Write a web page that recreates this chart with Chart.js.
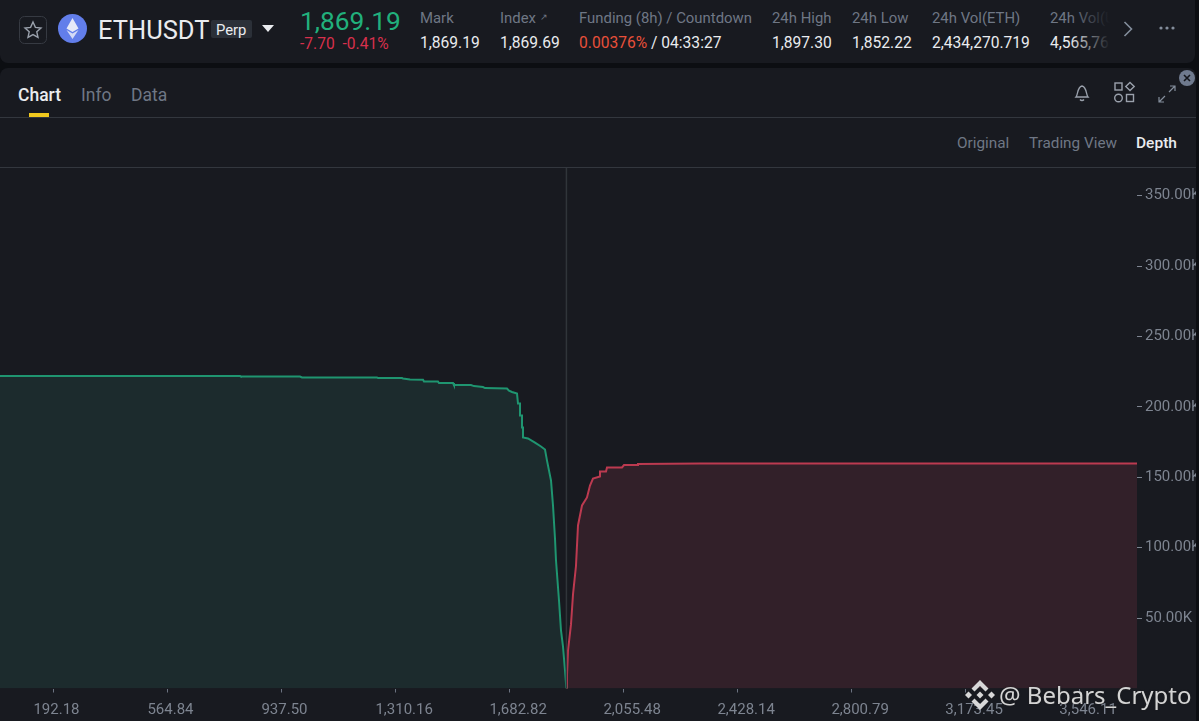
<!DOCTYPE html>
<html>
<head>
<meta charset="utf-8">
<title>ETHUSDT Depth</title>
<script src="https://cdn.jsdelivr.net/npm/chart.js@4/dist/chart.umd.min.js"></script>
<style>
  html, body { margin: 0; padding: 0; background: #0c0e12; overflow: hidden; }
  body { width: 1199px; height: 721px; position: relative; font-family: Roboto, sans-serif; }
  .panel { position: absolute; background: #181a20; }
  .t { position: absolute; white-space: nowrap; line-height: 1; font-size: 14.9px; transform: translateY(-50%); }
  .v { font-size: 15.6px; }
  .gray { color: #6f7785; }
  .white { color: #eaecef; }
  .line { position: absolute; left: 0; width: 1196px; height: 1px; background: #33373e; }
  svg { position: absolute; overflow: visible; }
  /* chart.js keeps 12px above the plot here, so the canvas starts 12px over the 168px line */
  #chart { position: absolute; left: 0; top: 156px; }
</style>
</head>
<body>
<div class="panel" style="left:0;top:0;width:1195px;height:63px;border-radius:0 0 8px 8px"></div>
<div class="panel" style="left:0;top:68px;width:1196px;height:653px;border-radius:8px 8px 0 0"></div>

<!-- top bar -->
<svg style="left:19px;top:16px" width="28" height="28">
  <rect x="0.5" y="0.5" width="27" height="27" rx="5" fill="none" stroke="#363a42"/>
  <polygon points="14,6 16.4,11.4 22,12 17.8,15.8 19,21.4 14,18.6 9,21.4 10.2,15.8 6,12 11.6,11.4" fill="none" stroke="#9aa1ac" stroke-width="1.4"/>
</svg>
<svg style="left:58px;top:14px" width="29" height="29">
  <circle cx="14.5" cy="14.5" r="14.5" fill="#627eea"/>
  <polygon points="14.5,4 8.5,14.5 14.5,18 20.5,14.5" fill="#e6e9f8"/>
  <polygon points="8.5,16 14.5,25 20.5,16 14.5,19.6" fill="#d3daf6"/>
</svg>
<div class="t white" style="left:98px;top:31px;font-size:25.5px">ETHUSDT</div>
<div style="position:absolute;left:211px;top:20px;width:41px;height:18px;background:#2b3038;border-radius:2px"></div>
<div class="t white" style="left:216px;top:29.5px;font-size:14.8px">Perp</div>
<svg style="left:262px;top:25px" width="12" height="8"><polygon points="0,0 12,0 6,7" fill="#eaecef"/></svg>

<div class="t" style="left:300px;top:21px;font-size:26.3px;color:#21b07c">1,869.19</div>
<div class="t v" style="left:300px;top:44.5px;color:#d8304c">-7.70&nbsp;&nbsp;-0.41%</div>

<div class="t gray" style="left:420px;top:18px">Mark</div>
<div class="t white v" style="left:420px;top:43.5px">1,869.19</div>
<div class="t gray" style="left:500px;top:18px">Index <span style="font-size:9px;vertical-align:3px">↗</span></div>
<div class="t white v" style="left:500px;top:43.5px">1,869.69</div>
<div class="t gray" style="left:579px;top:18px">Funding (8h) / Countdown</div>
<div class="t white v" style="left:579px;top:43.5px"><span style="color:#e8503a">0.00376%</span> / 04:33:27</div>
<div class="t gray" style="left:772px;top:18px">24h High</div>
<div class="t white v" style="left:772px;top:43.5px">1,897.30</div>
<div class="t gray" style="left:852px;top:18px">24h Low</div>
<div class="t white v" style="left:852px;top:43.5px">1,852.22</div>
<div class="t gray" style="left:932px;top:18px">24h Vol(ETH)</div>
<div class="t white v" style="left:932px;top:43.5px">2,434,270.719</div>
<div class="t gray" style="left:1050px;top:18px">24h Vol(USDT)</div>
<div class="t white v" style="left:1050px;top:43.5px">4,565,761,234</div>
<div style="position:absolute;left:1070px;top:5px;width:40px;height:50px;background:linear-gradient(to right,rgba(24,26,32,0),#181a20)"></div>
<div style="position:absolute;left:1110px;top:5px;width:80px;height:50px;background:#181a20"></div>
<svg style="left:1123px;top:21px" width="10" height="16"><polyline points="1.5,1 8.5,8 1.5,15" fill="none" stroke="#848e9c" stroke-width="1.6"/></svg>
<svg style="left:1159px;top:26px" width="16" height="4" fill="#848e9c"><circle cx="2" cy="2" r="1.6"/><circle cx="8" cy="2" r="1.6"/><circle cx="14" cy="2" r="1.6"/></svg>

<!-- tabs -->
<div class="t white" style="left:18px;top:96px;font-size:17.5px;font-weight:500">Chart</div>
<div class="t gray" style="left:81px;top:96px;font-size:17.5px">Info</div>
<div class="t gray" style="left:131px;top:96px;font-size:17.5px">Data</div>
<div style="position:absolute;left:29px;top:113px;width:20px;height:4px;background:#f0c81e"></div>
<div class="line" style="top:117px"></div>
<div class="line" style="top:167px"></div>

<svg style="left:1074px;top:84px" width="16" height="18" fill="none" stroke="#9aa1ac" stroke-width="1.3">
  <path d="M2,13 C4,11 3,3 8,2 C13,3 12,11 14,13 Z"/><path d="M6,15.5 C7,16.8 9,16.8 10,15.5"/>
</svg>
<svg style="left:1114px;top:82px" width="21" height="21" fill="none" stroke="#9aa1ac" stroke-width="1.4">
  <rect x="1" y="1" width="7" height="7"/><polygon points="16,0.5 20.2,4.5 16,8.5 11.8,4.5"/>
  <circle cx="4.5" cy="16" r="3.8"/><rect x="12.5" y="12.5" width="7" height="7"/>
</svg>
<svg style="left:1158px;top:85px" width="18" height="18" fill="none" stroke="#848e9c" stroke-width="1.2">
  <path d="M1,17 L7,11 M1,12 L1,17 L6,17 M17,1 L11,7 M12,1 L17,1 L17,6"/>
</svg>
<svg style="left:1179px;top:70px" width="16" height="16">
  <circle cx="8" cy="8" r="8" fill="#6f7a8e"/>
  <path d="M5,5 L11,11 M11,5 L5,11" stroke="#14161b" stroke-width="1.6"/>
</svg>

<div class="t gray" style="left:957px;top:143.5px;font-size:15.3px">Original</div>
<div class="t gray" style="left:1029px;top:143.5px;font-size:15.3px">Trading View</div>
<div class="t white" style="left:1136px;top:143.5px;font-size:15.5px;font-weight:500">Depth</div>

<canvas id="chart" width="1196" height="565"></canvas>

<!-- watermark -->
<svg style="left:965px;top:680px" width="30" height="30" fill="#d8d8d8">
  <polygon points="15,11.5 18.5,15 15,18.5 11.5,15"/>
  <polygon points="15,0 23.5,8.5 20.5,11.5 15,6 9.5,11.5 6.5,8.5"/>
  <polygon points="15,30 23.5,21.5 20.5,18.5 15,24 9.5,18.5 6.5,21.5"/>
  <polygon points="0,15 3.5,11.5 7,15 3.5,18.5"/>
  <polygon points="30,15 26.5,11.5 23,15 26.5,18.5"/>
</svg>
<div class="t" style="left:999px;top:695px;font-family:'Noto Sans';font-size:24px;color:#d4d4d4;text-shadow:0 0 2px #222">@ Bebars_Crypto</div>

<script>
const midPrice = 1869.19;

// bids, read left to right from the picture (depth in thousands)
const bidPrices = [17.6, 802.2, 805.4, 998.3, 1004.8, 1250.0, 1253.3, 1331.7, 1335.0, 1357.9, 1400.4, 1403.7, 1449.4, 1452.7, 1498.5, 1501.7, 1557.3, 1567.1, 1596.6, 1603.1, 1675.0, 1681.5, 1691.3, 1707.7, 1711.0, 1717.5, 1717.5, 1724.0, 1724.0, 1727.3, 1727.3, 1743.6, 1766.5, 1786.1, 1799.2, 1805.8, 1818.9, 1825.4, 1831.9, 1835.2, 1845.0, 1851.5, 1858.1, 1864.6, 1869.19];
const bidDepth = [221.9, 221.9, 221.6, 221.6, 220.9, 220.9, 220.5, 220.5, 220.2, 219.5, 219.3, 218.0, 218.0, 217.0, 217.0, 215.5, 215.5, 214.8, 214.1, 213.4, 213.1, 211.6, 210.6, 209.5, 202.4, 202.4, 193.9, 193.9, 185.4, 185.4, 178.3, 177.6, 174.7, 171.9, 169.7, 161.9, 147.7, 130.0, 106.5, 90.9, 62.5, 41.2, 29.8, 12.8, 0];

// asks
const askPrices = [1869.19, 1871.1, 1874.4, 1884.2, 1890.8, 1900.5, 1907.1, 1920.2, 1936.5, 1946.3, 1956.1, 1979.0, 1979.0, 1998.6, 2001.9, 2051.0, 2057.5, 2100.0, 2103.2, 2305.9, 3734.5];
const askDepth = [0, 9.2, 27.0, 45.5, 66.8, 87.0, 115.8, 130.0, 135.7, 144.2, 149.1, 150.6, 154.1, 154.1, 157.0, 157.0, 158.7, 158.7, 159.4, 159.8, 159.8];

const xTicks = [192.18, 564.84, 937.50, 1310.16, 1682.82, 2055.48, 2428.14, 2800.79, 3173.45, 3546.11];
const yTicks = [50, 100, 150, 200, 250, 300, 350];
const xMin = 17.6;
const xMax = 3734.5;
const yMax = 369.7;

function toPoints(xs, ys) {
  return xs.map((x, i) => ({ x: x, y: ys[i] }));
}

const tickColor = "#7d8490";
const tickFont = { family: "Roboto", size: 15 };

new Chart(document.getElementById("chart").getContext("2d"), {
  type: "line",
  data: {
    datasets: [
      {
        data: toPoints([midPrice, midPrice], [0, yMax]),
        borderColor: "#30353a",
        borderWidth: 1.5,
        fill: false,
        order: 1,
      },
      {
        data: toPoints(bidPrices, bidDepth),
        borderColor: "#1f9570",
        backgroundColor: "#1c2b2d",
        borderWidth: 2,
        fill: "origin",
        order: 2,
      },
      {
        data: toPoints(askPrices, askDepth),
        borderColor: "#bc3a50",
        backgroundColor: "#322029",
        borderWidth: 2,
        fill: "origin",
        order: 2,
      },
    ],
  },
  options: {
    responsive: false,
    animation: false,
    devicePixelRatio: 1,
    layout: { autoPadding: false, padding: 0 },
    elements: { point: { radius: 0 }, line: { tension: 0 } },
    plugins: { legend: { display: false }, tooltip: { enabled: false } },
    scales: {
      x: {
        type: "linear",
        min: xMin,
        max: xMax,
        afterBuildTicks: (axis) => { axis.ticks = xTicks.map((v) => ({ value: v })); },
        afterFit: (axis) => { axis.height = 32.5; },
        border: { display: false },
        grid: { drawOnChartArea: false, tickLength: 4, color: "#6b7280" },
        ticks: {
          autoSkip: false,
          maxRotation: 0,
          align: "start",
          labelOffset: -20,
          padding: 9,
          color: tickColor,
          font: tickFont,
          callback: (v) => v.toLocaleString("en-US", { minimumFractionDigits: 2, maximumFractionDigits: 2 }),
        },
      },
      y: {
        position: "right",
        min: 0,
        max: yMax,
        afterBuildTicks: (axis) => { axis.ticks = yTicks.map((v) => ({ value: v })); },
        afterFit: (axis) => { axis.width = 59; },
        border: { display: false },
        grid: { drawOnChartArea: false, tickLength: 5, color: "#7d8490" },
        ticks: {
          padding: 3,
          color: tickColor,
          font: tickFont,
          callback: (v) => v.toFixed(2) + "K",
        },
      },
    },
  },
});
</script>
</body>
</html>
